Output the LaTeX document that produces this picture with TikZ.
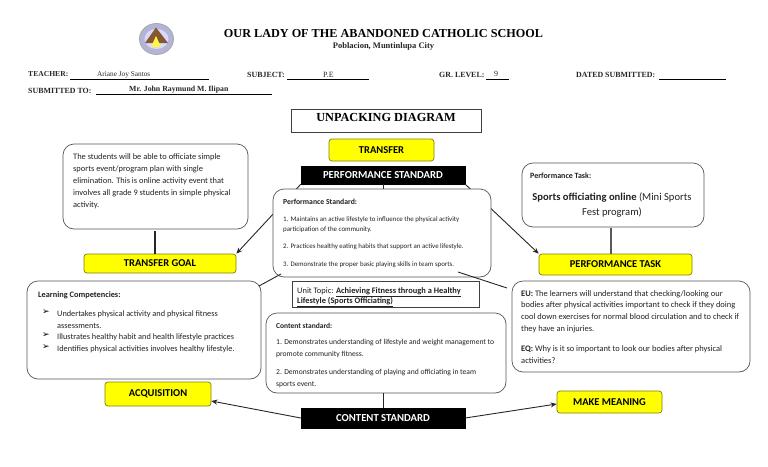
\documentclass[tikz,border=0pt]{standalone}
\usepackage{fontspec}
\usetikzlibrary{arrows.meta,shapes.geometric}
\setmainfont{Carlito}
\newfontfamily\serifhead{Liberation Serif}
\newfontfamily\djv{DejaVu Sans}
\definecolor{ybox}{HTML}{FFFF00}
\definecolor{yedge}{HTML}{7F7F10}
\definecolor{bedge}{HTML}{555555}
\definecolor{inktext}{HTML}{222222}
\newcommand{\fs}[2]{\fontsize{#1}{#2}\selectfont}
\tikzset{
  framebox/.style={draw=bedge,line width=0.7pt,rounded corners=11pt,fill=white,inner sep=0pt},
  yellowbox/.style={draw=yedge,line width=0.7pt,rounded corners=3pt,fill=ybox,inner sep=0pt,font=\bfseries\fs{10.5}{11},text=black},
  blackbar/.style={draw=black,fill=black,inner sep=0pt,text=white,font=\bfseries\fs{10.7}{11}},
  squarebox/.style={draw=black!75,line width=1pt,fill=white,inner sep=0pt},
  copytext/.style={anchor=north west,inner sep=0pt,align=left,text=inktext},
  headtext/.style={inner sep=0pt,anchor=west,font=\serifhead\bfseries\fs{7.9}{9},text=black!85},
  rule/.style={draw=black,line width=0.7pt},
  link/.style={draw=black!85,line width=0.9pt},
  arrowlink/.style={link,-{Stealth[length=6pt,width=5pt]}}
}
\begin{document}
\begin{tikzpicture}[x=1pt,y=-1pt]
\useasboundingbox (0,0) rectangle (768,466);
% logo
\node[draw=black!35,line width=0.8pt,fill=blue!30!gray!45,ellipse,minimum width=34pt,minimum height=31pt,inner sep=0pt] (logo) at (156.5,39) {};
\fill[fill=white!85!blue] (logo.center) ellipse (12pt and 10pt);
\fill[brown!70!black] (156,27.5) -- (168,43) -- (145,43) -- cycle;
\fill[yellow!70!white] (156,36) -- (161,47) -- (151,47) -- cycle;
% heading
\node[inner sep=0pt,font=\serifhead\bfseries\fs{12.2}{13},text=black] (school) at (383.5,34) {OUR LADY OF THE ABANDONED CATHOLIC SCHOOL};
\node[inner sep=0pt,font=\serifhead\bfseries\fs{8.5}{9},text=black!85] (place) at (383.5,46) {Poblacion, Muntinlupa City};
\node[headtext,font=\serifhead\bfseries\fs{7.6}{9}] (t1) at (28,74.5) {TEACHER:};
\node[headtext,font=\serifhead\fs{7.3}{9}] (t1v) at (97,74.5) {Ariane Joy Santos};
\node[headtext] (t2) at (247,74.5) {SUBJECT:};
\node[headtext,font=\serifhead\fs{8}{9}] (t2v) at (323,74.5) {P.E};
\node[headtext] (t3) at (439,74.5) {GR. LEVEL:};
\node[headtext,font=\serifhead\fs{8}{9}] (t3v) at (494,74) {9};
\node[headtext] (t4) at (576,74.5) {DATED SUBMITTED:};
\node[headtext] (t5) at (28,90.5) {SUBMITTED TO:};
\node[headtext,font=\serifhead\bfseries\fs{7.8}{9}] (t5v) at (129,89.5) {Mr. John Raymund M. Ilipan};
\draw[rule] (70,79) -- (209,79);
\draw[rule] (287,79) -- (369,79);
\draw[rule] (486,79) -- (509,79);
\draw[rule] (659,79) -- (726,79);
\draw[rule] (96,94.5) -- (272,94.5);
% named boxes first (text is added later)
\node[squarebox,minimum width=190pt,minimum height=23pt] (title) at (386,120.5) {};
\node[inner sep=0pt,font=\serifhead\bfseries\fs{12.3}{13},text=black] (titletext) at (386,117.5) {UNPACKING DIAGRAM};
\node[yellowbox,minimum width=105pt,minimum height=22pt] (transfer) at (381.5,150) {TRANSFER};
\node[blackbar,minimum width=164pt,minimum height=18pt] (ps) at (383,175) {PERFORMANCE STANDARD};
\node[yellowbox,minimum width=152pt,minimum height=19pt] (tg) at (160,263.5) {TRANSFER GOAL};
\node[yellowbox,minimum width=153pt,minimum height=21pt] (pt) at (615.5,264.5) {PERFORMANCE TASK};
\node[yellowbox,minimum width=106pt,minimum height=24pt] (acq) at (158,394) {ACQUISITION};
\node[yellowbox,minimum width=105pt,minimum height=22pt] (mm) at (609.5,402) {MAKE MEANING};
\node[blackbar,minimum width=164pt,minimum height=20pt] (cs) at (383,418) {CONTENT STANDARD};
% connectors under the boxes
\coordinate (tgtop) at (155,254);
\coordinate (tgboxb) at (155,231);
\coordinate (pttop) at (611,254);
\coordinate (ptboxb) at (611,228);
\draw[arrowlink] (ps.south west) -- (tg.north east);
\draw[arrowlink] (ps.south east) -- (pt.north west);
\draw[link] (ps.south) -- ++(0,6);
\draw[arrowlink] (cs.west) -- ([yshift=-7pt]acq.east);
\draw[arrowlink] (cs.east) -- ([yshift=-2pt]mm.west);
\draw[link,line width=1.2pt] (tgboxb) -- (tgtop);
\draw[link,line width=1.2pt,draw=black!65] (ptboxb) -- (pttop);
% framed boxes
\node[framebox,minimum width=185pt,minimum height=85pt] (goalbox) at (155.5,186.5) {};
\node[framebox,minimum width=182pt,minimum height=64pt] (taskbox) at (613,195) {};
\node[framebox,minimum width=218pt,minimum height=88pt] (stdbox) at (382,233) {};
\node[framebox,minimum width=234pt,minimum height=98pt] (lcbox) at (144,330) {};
\node[framebox,minimum width=238pt,minimum height=91pt] (eubox) at (631,326.5) {};
\node[framebox,minimum width=240pt,minimum height=80pt] (csbox) at (386,353) {};
\node[squarebox,minimum width=187pt,minimum height=26pt] (unit) at (385.5,294) {};
\coordinate (lowleftA) at (259,286);
\coordinate (lowleftB) at (281,274);
\coordinate (lowrightA) at (458,272);
\coordinate (lowrightB) at (507,288);
\draw[link] (lowleftA) -- (lowleftB);
\draw[link] (lowrightA) -- (lowrightB);
\draw[link] (cs.north) -- ++(0,-15);
% box texts
\node[copytext,font=\fs{8.4}{12}\selectfont] (goaltext) at (73,153) {The students will be able to officiate simple\\sports event/program plan with single\\elimination. This is online activity event that\\involves all grade 9 students in simple physical\\activity.};
\node[copytext,font=\bfseries\fs{8}{9}] (tasktitle) at (530,172.5) {Performance Task:};
\node[inner sep=0pt,align=center,text=inktext,font=\fs{10.6}{15}\selectfont] (tasktext) at (612,205) {\textbf{Sports officiating online} (Mini Sports\\Fest program)};
\node[copytext,font=\bfseries\fs{7.7}{9}] (stdtitle) at (283,198.5) {Performance Standard:};
\node[copytext,font=\fs{6.9}{9.6}\selectfont] (stdtext) at (283,216.5) {1. Maintains an active lifestyle to influence the physical activity\\participation of the community.\\[8.2pt]2. Practices healthy eating habits that support an active lifestyle.\\[8.2pt]3. Demonstrate the proper basic playing skills in team sports.};
\node[copytext,font=\bfseries\fs{8.3}{9}] (lctitle) at (38,291) {Learning Competencies:};
\node[copytext,font=\djv\fs{9}{11.7}\selectfont,text=black] (lcbullets) at (42,309.5) {➢\\[11.7pt]➢\\➢};
\node[copytext,font=\fs{8.3}{11.7}\selectfont] (lctext) at (57,310.5) {Undertakes physical activity and physical fitness\\assessments.\\Illustrates healthy habit and health lifestyle practices\\Identifies physical activities involves healthy lifestyle.};
\node[copytext,font=\fs{8.45}{11.8}\selectfont] (eutext) at (521,290) {\textbf{EU:} The learners will understand that checking/looking our\\bodies after physical activities important to check if they doing\\cool down exercises for normal blood circulation and to check if\\they have an injuries.\\[8.2pt]\textbf{EQ:} Why is it so important to look our bodies after physical\\activities?};
\node[copytext,font=\fs{8.4}{10}\selectfont] (unittext) at (297,287.5) {Unit Topic: \textbf{\underline{Achieving Fitness through a Healthy}}\\\textbf{\underline{Lifestyle (Sports Officiating)}}};
\node[copytext,font=\bfseries\fs{7.5}{8}] (cstitle) at (276,323) {Content standard:};
\node[copytext,font=\fs{7.6}{11.6}\selectfont] (cstext) at (276,339.5) {1. Demonstrates understanding of lifestyle and weight management to\\promote community fitness.\\[6.5pt]2. Demonstrates understanding of playing and officiating in team\\sports event.};
\end{tikzpicture}
\end{document}
